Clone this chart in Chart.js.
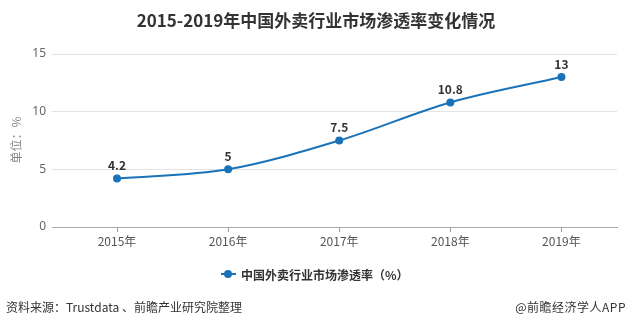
<!DOCTYPE html>
<html>
<head>
<meta charset="utf-8">
<script src="https://cdn.jsdelivr.net/npm/chart.js@4.4.1/dist/chart.umd.min.js"></script>
<style>
    body { margin: 0; background: #fff; font-family: "Noto Sans CJK SC", "Noto Sans", sans-serif; }
    #wrap { position: relative; width: 632px; height: 327px; overflow: hidden; }
    #chart { position: absolute; left: 0; top: 0; }
    .txt { position: absolute; white-space: nowrap; font-weight: normal; }
</style>
</head>
<body>
<div id="wrap">
    <canvas id="chart" width="632" height="327"></canvas>
    <div class="txt" style="left: 0; width: 632px; top: 7px; text-align: center; font-size: 17px; font-weight: bold; color: #333;">2015-2019年中国外卖行业市场渗透率变化情况</div>
    <div class="txt" style="left: 221px; top: 265px; height: 18px; display: flex; align-items: center; font-size: 12px; font-weight: bold; color: #333;">
        <span style="position: relative; width: 15px; height: 2px; background: #1a73b8; margin-right: 5px;">
            <span style="position: absolute; left: 3px; top: -3px; width: 8px; height: 8px; border-radius: 50%; background: #1a73b8;"></span>
        </span>
        中国外卖行业市场渗透率（%）
    </div>
    <div class="txt" style="left: 6px; top: 298px; font-size: 12px; color: #333;">资料来源：Trustdata 、前瞻产业研究院整理</div>
    <div class="txt" style="right: 6px; top: 298px; font-size: 12px; color: #333; letter-spacing: 0.5px;">@前瞻经济学人APP</div>
</div>
<script>
const categories = ['2015年', '2016年', '2017年', '2018年', '2019年'];
const penetration = [4.2, 5, 7.5, 10.8, 13];
const yTicks = [0, 5, 10, 15];

const lineColor = '#1a73b8';

// value labels above each point, plus the rotated unit label
const pointLabels = {
    id: 'pointLabels',
    afterDatasetsDraw(chart) {
        const ctx = chart.ctx;
        const meta = chart.getDatasetMeta(0);
        ctx.save();
        ctx.font = 'bold 12px "Noto Sans CJK SC", sans-serif';
        ctx.fillStyle = '#333';
        ctx.textAlign = 'center';
        ctx.textBaseline = 'bottom';
        meta.data.forEach((pt, i) => {
            ctx.fillText(String(penetration[i]), pt.x, pt.y - 7);
        });
        ctx.restore();

        ctx.save();
        ctx.translate(16, 140);
        ctx.rotate(-Math.PI / 2);
        ctx.font = '12px "Noto Sans CJK SC", sans-serif';
        ctx.fillStyle = '#888';
        ctx.textAlign = 'center';
        ctx.textBaseline = 'middle';
        ctx.fillText('单位：%', 0, 0);
        ctx.restore();
    }
};

new Chart(document.getElementById('chart'), {
    type: 'line',
    data: {
        datasets: [{
            data: penetration.map((v, i) => ({ x: i, y: v })),
            borderColor: lineColor,
            backgroundColor: lineColor,
            borderWidth: 2,
            tension: 0.4,
            cubicInterpolationMode: 'monotone',
            pointRadius: 4,
            pointHoverRadius: 4,
            pointBackgroundColor: lineColor,
            pointBorderWidth: 0
        }]
    },
    options: {
        responsive: false,
        animation: false,
        events: [],
        layout: { padding: { top: 54, left: 0, right: 15, bottom: 68 } },
        plugins: { legend: { display: false }, tooltip: { enabled: false } },
        scales: {
            x: {
                type: 'linear',
                min: -0.585,
                max: 4.5,
                afterBuildTicks: axis => { axis.ticks = categories.map((c, i) => ({ value: i })); },
                afterFit: axis => { axis.height = 32; },
                grid: { drawOnChartArea: false, drawTicks: true, tickLength: 5, color: '#999' },
                border: { color: '#aaa' },
                ticks: {
                    callback: v => categories[v],
                    font: { size: 12, family: '"Noto Sans CJK SC", sans-serif' },
                    color: '#555',
                    padding: 2,
                    maxRotation: 0
                }
            },
            y: {
                min: 0,
                max: 15,
                afterBuildTicks: axis => { axis.ticks = yTicks.map(v => ({ value: v })); },
                afterFit: axis => { axis.width = 52; },
                grid: { color: '#e3e3e3', drawTicks: false },
                border: { display: false },
                ticks: {
                    font: { size: 12, family: '"Noto Sans", sans-serif' },
                    color: '#666',
                    padding: 6
                }
            }
        }
    },
    plugins: [pointLabels]
});
</script>
</body>
</html>
